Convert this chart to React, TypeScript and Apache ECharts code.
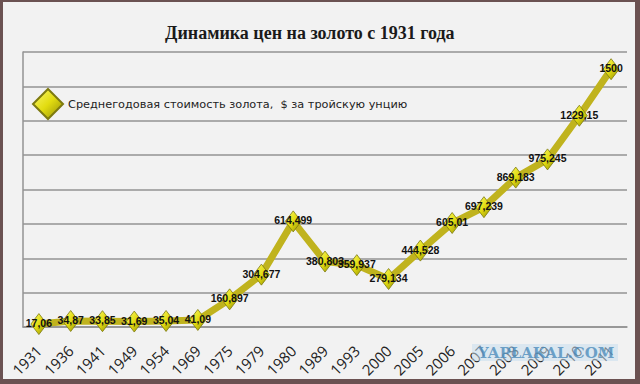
import React, { useEffect, useRef } from "react";
import * as echarts from "echarts";

const years = ["1931","1936","1941","1949","1954","1969","1975","1979","1980","1989","1993","2000","2005","2006","2007","2008","2009","2010","2011"];
const prices = [17.06,34.87,33.85,31.69,35.04,41.09,160.897,304.677,614.499,380.803,359.937,279.134,444.528,605.01,697.239,869.183,975.245,1229.15,1500];
const seriesName = "Среднегодовая стоимость золота,  $ за тройскую унцию";
const titleText = "Динамика цен на золото с 1931 года";
const watermark = "YAPLAKAL.COM";

export default function App() {
  const ref = useRef<HTMLDivElement>(null);
  useEffect(() => {
    const chart = echarts.init(ref.current!, null, { renderer: "svg" });
    const diamondFill = new echarts.graphic.LinearGradient(0, 0, 1, 1, [
      { offset: 0, color: "#fbf870" },
      { offset: 0.5, color: "#e2dc10" },
      { offset: 1, color: "#8f8a08" },
    ]);
    chart.setOption({
      animation: false,
      backgroundColor: "#6b5252",
      graphic: [
        { type: "rect", left: 3, top: 2, shape: { width: 632, height: 377 }, style: { fill: "#f2f2f2" }, z: -10 },
        { type: "rect", left: 472, top: 344, shape: { width: 146, height: 17 }, style: { fill: "rgba(200,222,238,0.55)" }, z: 99 },
        {
          type: "text", left: 478, top: 345, z: 100,
          style: {
            text: watermark, fill: "rgba(70,135,185,0.75)",
            fontSize: 15, fontWeight: "bold", fontFamily: "'DejaVu Serif', serif",
          },
        },
      ],
      title: {
        text: titleText, left: 160, top: 19,
        textStyle: { fontFamily: "'Liberation Serif', serif", fontWeight: "bold", fontSize: 18, color: "#1a1a1a" },
      },
      legend: {
        left: 32, top: 88, padding: 0, icon: "diamond", itemWidth: 30, itemHeight: 30, itemGap: 8,
        textStyle: { fontFamily: "'DejaVu Sans', Verdana, sans-serif", fontSize: 11.3, color: "#222" },
        data: [seriesName],
      },
      grid: { left: 23, right: 13, top: 52, bottom: 57, show: true, backgroundColor: "#f2f2f2", borderWidth: 0 },
      xAxis: {
        type: "category", data: years, boundaryGap: true,
        axisLine: { show: true, lineStyle: { color: "#939393", width: 1.5 } },
        axisTick: { show: false },
        axisLabel: {
          rotate: 45, margin: 21, fontSize: 15, color: "#222",
          fontFamily: "'Open Sans', sans-serif", interval: 0,
        },
      },
      yAxis: {
        type: "value", min: 0, max: 1600, interval: 200,
        axisLine: { show: true, lineStyle: { color: "#939393", width: 1.5 } },
        axisTick: { show: false },
        axisLabel: { show: false },
        splitLine: { show: true, lineStyle: { color: "#939393", width: 1.5 } },
      },
      series: [
        {
          name: seriesName, type: "line", data: prices,
          symbol: "diamond", symbolSize: [16, 21],
          lineStyle: { color: "#c0b31e", width: 7 },
          itemStyle: { color: diamondFill, borderColor: "#7d7a10", borderWidth: 0.8 },
          label: {
            show: true, position: "inside", offset: [0, -1],
            formatter: (p: any) => String(p.value).replace(".", ","),
            fontFamily: "'Liberation Sans', Arial, sans-serif",
            fontWeight: "bold", fontSize: 10.5, color: "#111",
          },
          z: 5,
        },
      ],
    });
    return () => chart.dispose();
  }, []);
  return <div ref={ref} style={{ position: "fixed", left: 0, top: 0, width: 640, height: 384 }} />;
}
